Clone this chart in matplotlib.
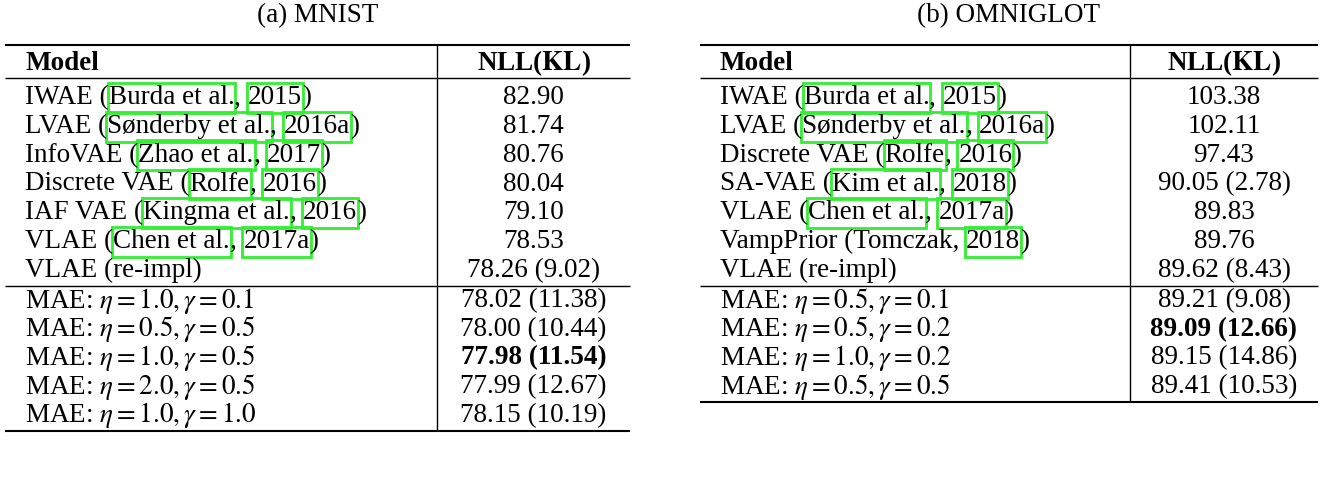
import matplotlib.pyplot as plt
from matplotlib.patches import Rectangle

plt.rcParams['font.family'] = 'Liberation Serif'
plt.rcParams['mathtext.fontset'] = 'stix'

# rows: list of segments (text, boxed) for model name, then NLL string, bold flag
mnist_top = [
    ([('IWAE (', 0), ('Burda et al.', 1), (', ', 0), ('2015', 1), (')', 0)], '82.90', False),
    ([('LVAE (', 0), ('Sønderby et al.', 1), (', ', 0), ('2016a', 1), (')', 0)], '81.74', False),
    ([('InfoVAE (', 0), ('Zhao et al.', 1), (', ', 0), ('2017', 1), (')', 0)], '80.76', False),
    ([('Discrete VAE (', 0), ('Rolfe', 1), (', ', 0), ('2016', 1), (')', 0)], '80.04', False),
    ([('IAF VAE (', 0), ('Kingma et al.', 1), (', ', 0), ('2016', 1), (')', 0)], '79.10', False),
    ([('VLAE (', 0), ('Chen et al.', 1), (', ', 0), ('2017a', 1), (')', 0)], '78.53', False),
    ([('VLAE (re-impl)', 0)], '78.26 (9.02)', False),
]
mnist_bottom = [
    ([(r'MAE: $\eta = 1.0, \gamma = 0.1$', 0)], '78.02 (11.38)', False),
    ([(r'MAE: $\eta = 0.5, \gamma = 0.5$', 0)], '78.00 (10.44)', False),
    ([(r'MAE: $\eta = 1.0, \gamma = 0.5$', 0)], '77.98 (11.54)', True),
    ([(r'MAE: $\eta = 2.0, \gamma = 0.5$', 0)], '77.99 (12.67)', False),
    ([(r'MAE: $\eta = 1.0, \gamma = 1.0$', 0)], '78.15 (10.19)', False),
]
omni_top = [
    ([('IWAE (', 0), ('Burda et al.', 1), (', ', 0), ('2015', 1), (')', 0)], '103.38', False),
    ([('LVAE (', 0), ('Sønderby et al.', 1), (', ', 0), ('2016a', 1), (')', 0)], '102.11', False),
    ([('Discrete VAE (', 0), ('Rolfe', 1), (', ', 0), ('2016', 1), (')', 0)], '97.43', False),
    ([('SA-VAE (', 0), ('Kim et al.', 1), (', ', 0), ('2018', 1), (')', 0)], '90.05 (2.78)', False),
    ([('VLAE (', 0), ('Chen et al.', 1), (', ', 0), ('2017a', 1), (')', 0)], '89.83', False),
    ([('VampPrior (Tomczak, ', 0), ('2018', 1), (')', 0)], '89.76', False),
    ([('VLAE (re-impl)', 0)], '89.62 (8.43)', False),
]
omni_bottom = [
    ([(r'MAE: $\eta = 0.5, \gamma = 0.1$', 0)], '89.21 (9.08)', False),
    ([(r'MAE: $\eta = 0.5, \gamma = 0.2$', 0)], '89.09 (12.66)', True),
    ([(r'MAE: $\eta = 1.0, \gamma = 0.2$', 0)], '89.15 (14.86)', False),
    ([(r'MAE: $\eta = 0.5, \gamma = 0.5$', 0)], '89.41 (10.53)', False),
]

W, H = 1325, 504
fig = plt.figure(figsize=(W / 100, H / 100), dpi=100)
ax = fig.add_axes([0, 0, 1, 1])
ax.set_xlim(0, W)
ax.set_ylim(H, 0)
ax.axis('off')
fig.canvas.draw()
renderer = fig.canvas.get_renderer()
FS = 19.5
ROW = 28.7


def text_width(t):
    # width in pixels, since axes spans figure
    return t.get_window_extent(renderer).width


def draw_segments(x, y, segs):
    for s, boxed in segs:
        t = ax.text(x, y + 1, s, fontsize=FS, va='center', ha='left')
        w = text_width(t)
        if boxed:
            ax.add_patch(Rectangle((x - 1, y - 14), w + 2, 30, fill=False,
                                   edgecolor='#33ee33', lw=2))
        x += w
    return x


def draw_table(x0, x1, xdiv, title, top, bottom):
    ax.text((x0 + x1) / 2, 16, title, fontsize=FS, ha='center', va='center')
    ax.hlines(45, x0, x1, color='black', lw=1.5)
    ax.text(x0 + 20, 63, 'Model', fontsize=FS, fontweight='bold', va='center')
    ax.text((xdiv + x1) / 2, 63, r'NLL($\mathbf{KL}$)', fontsize=FS,
            fontweight='bold', ha='center', va='center')
    ax.hlines(78, x0, x1, color='black', lw=1)
    y = 97
    for segs, val, bold in top:
        draw_segments(x0 + 20, y, segs)
        ax.text((xdiv + x1) / 2, y + 1, val, fontsize=FS, ha='center', va='center',
                fontweight='bold' if bold else 'normal')
        y += ROW
    mid = y - ROW / 2 + 2
    ax.hlines(mid, x0, x1, color='black', lw=1)
    y = mid + 14
    for segs, val, bold in bottom:
        draw_segments(x0 + 20, y, segs)
        ax.text((xdiv + x1) / 2, y + 1, val, fontsize=FS, ha='center', va='center',
                fontweight='bold' if bold else 'normal')
        y += ROW
    end = y - ROW / 2 + 2
    ax.hlines(end, x0, x1, color='black', lw=1.5)
    ax.vlines(xdiv, 45, end, color='black', lw=1)


draw_table(5, 630, 437, '(a) MNIST', mnist_top, mnist_bottom)
draw_table(700, 1318, 1130, '(b) OMNIGLOT', omni_top, omni_bottom)

fig.savefig('out.png', dpi=100)
